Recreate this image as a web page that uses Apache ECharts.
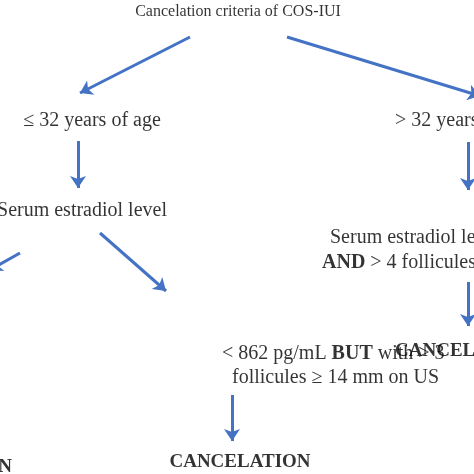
<!DOCTYPE html>
<html>
<head>
<meta charset="utf-8">
<script src="https://cdn.jsdelivr.net/npm/echarts@6/dist/echarts.min.js"></script>
<style>html,body{margin:0;padding:0;background:#fff}#chart{width:474px;height:474px}</style>
</head>
<body>
<div id="chart"></div>
<script>
// flowchart boxes: text, anchor [x, y], alignment, size
var boxText = [
  "Cancelation criteria of COS-IUI",
  "\u2264 32 years of age",
  "> 32 years of age",
  "Serum estradiol level",
  "Serum estradiol level",
  "{b|AND} > 4 follicules",
  "< 862 pg/mL {b|BUT} with > 3",
  "follicules \u2265 14 mm on US",
  "{b|CANCELATION}",
  "{b|CANCELATION}",
  "{b|CANCELATION}"
];
var boxPos = [
  [238, 12], [92, 121], [395, 121], [82, 211], [330, 238],
  [322, 263], [222, 354], [232, 378], [240, 462], [395, 351], [12, 467]
];
var boxAlign = ["center", "center", "left", "center", "left", "left", "left", "left", "center", "left", "right"];
var boxSize = [16, 20, 20, 20, 20, 20, 20, 20, 19, 19, 19];
// arrows: [from, to]
var arrows = [
  [[190, 37], [80, 93]],
  [[287, 37], [480, 96]],
  [[78, 141], [78, 188]],
  [[100, 233], [166, 291]],
  [[20, 253], [-10, 270]],
  [[468, 142], [468, 190]],
  [[468, 282], [468, 326]],
  [[232, 395], [232, 441]]
];

var font = "'Liberation Serif', 'DejaVu Serif', serif";
var chart = echarts.init(document.getElementById("chart"));
var pts = boxText.map(function (t, i) {
  return {
    value: boxPos[i],
    label: {
      show: true, position: [0, 0], formatter: t, color: "#000",
      align: boxAlign[i], verticalAlign: "middle",
      fontFamily: font, fontSize: boxSize[i],
      rich: { b: { fontFamily: font, fontSize: boxSize[i], fontWeight: "bold", color: "#000" } }
    }
  };
});

chart.setOption({
  backgroundColor: "#fff",
  animation: false,
  grid: { left: 0, right: 0, top: 0, bottom: 0 },
  xAxis: { type: "value", min: 0, max: 474, show: false },
  yAxis: { type: "value", min: 0, max: 474, inverse: true, show: false },
  series: [
    {
      type: "lines", coordinateSystem: "cartesian2d",
      symbol: ["none", "arrow"], symbolSize: 12,
      lineStyle: { color: "#4472C4", width: 3, opacity: 1 },
      data: arrows.map(function (a) { return { coords: a }; }),
      z: 1
    },
    {
      type: "scatter", symbolSize: 0, data: pts, z: 2
    }
  ]
});
</script>
</body>
</html>
